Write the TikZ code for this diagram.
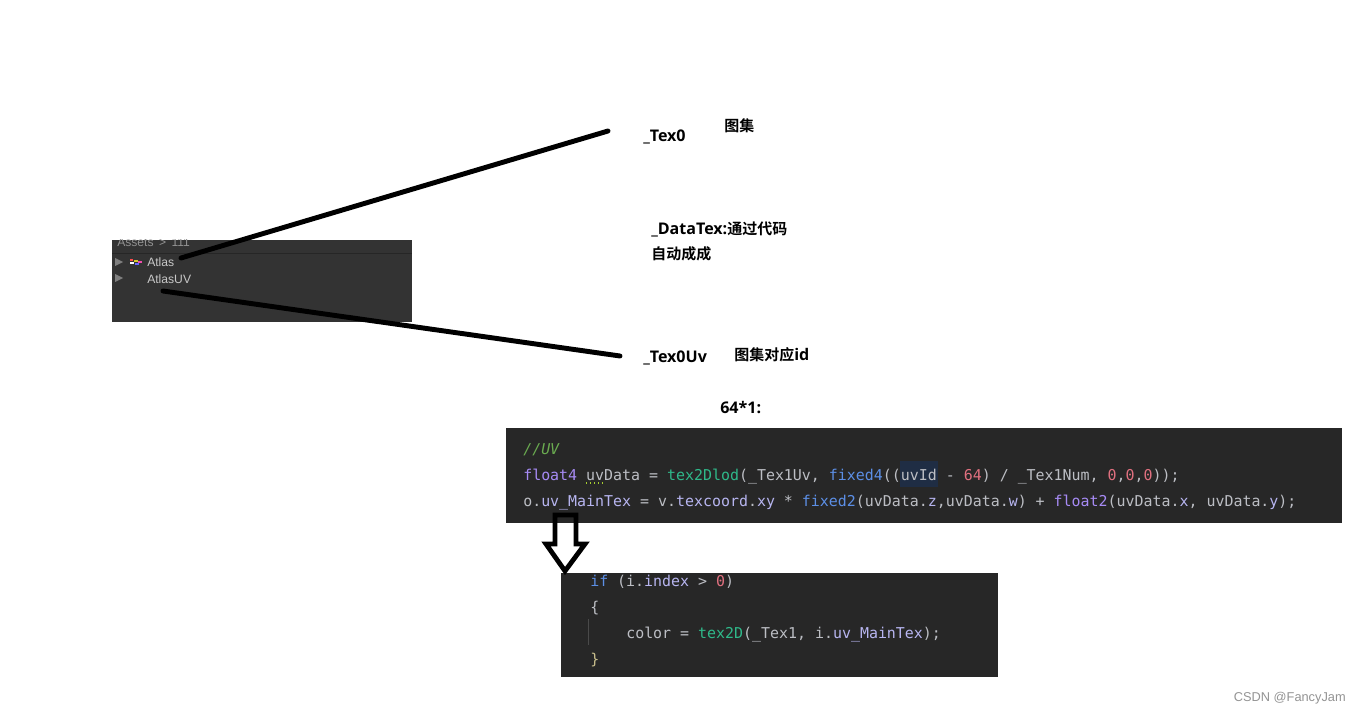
\documentclass[tikz,border=0pt]{standalone}
\usepackage{fontspec}
\usepackage{xcolor}
\setmainfont{Liberation Sans}
\setmonofont{DejaVu Sans Mono}
\newfontfamily\labelfont{Noto Sans CJK SC}[BoldFont={Noto Sans CJK SC Bold}]
\newfontfamily\latinfont{Open Sans}[Scale=1.07]

\definecolor{panelbg}{HTML}{333333}
\definecolor{panelline}{HTML}{262626}
\definecolor{paneltext}{HTML}{C8C8C8}
\definecolor{paneltri}{HTML}{7F7F7F}
\definecolor{codebg}{HTML}{272727}
\definecolor{codegray}{HTML}{BCBEC4}
\definecolor{codegreen}{HTML}{6AAB50}
\definecolor{codeblue}{HTML}{5C8FE6}
\definecolor{codepurple}{HTML}{A78BF5}
\definecolor{codefunc}{HTML}{2FB98A}
\definecolor{codepink}{HTML}{E0707F}
\definecolor{codefield}{HTML}{B7B5F0}
\definecolor{codemark}{HTML}{1F2D44}
\definecolor{codetan}{HTML}{C8BE8C}

\newcommand{\codekw}[1]{\textcolor{codeblue}{#1}}
\newcommand{\codepu}[1]{\textcolor{codepurple}{#1}}
\newcommand{\codefn}[1]{\textcolor{codefunc}{#1}}
\newcommand{\codenr}[1]{\textcolor{codepink}{#1}}
\newcommand{\codefd}[1]{\textcolor{codefield}{#1}}
\newcommand{\lat}[1]{{\latinfont\bfseries #1}}

\tikzset{
  codeline/.style={anchor=base west, inner sep=0pt, text=codegray, font=\ttfamily\fontsize{11.2pt}{13pt}\selectfont},
  assetline/.style={anchor=base west, inner sep=0pt, text=paneltext, font=\fontsize{9.1pt}{11pt}\selectfont},
  notelabel/.style={anchor=base west, inner sep=0pt, font=\labelfont\bfseries\fontsize{11.25pt}{13pt}\selectfont},
  pointer/.style={black, line width=3.7pt, line cap=round},
}

\begin{document}
\begin{tikzpicture}[x=0.75pt, y=-0.75pt]
\useasboundingbox (0,0) rectangle (1361,713);

\fill[panelbg] (112,240) rectangle (412,322);
\begin{scope}
\clip (112,240) rectangle (412,322);
\node[assetline, text=paneltri!85!white] (assets) at (117,247) {Assets \,>\, 111};
\end{scope}
\draw[panelline] (112,253) -- (412,253);
\fill[paneltri] (115,258) -- (123,262) -- (115,266) -- cycle;
\fill[paneltri] (115,274) -- (123,278) -- (115,282) -- cycle;
\fill[red!70!white] (130,259) rectangle (133,261);
\fill[yellow!80!black] (134,260) rectangle (138,262);
\fill[magenta!70!white] (138,261) rectangle (142,263);
\fill[white] (130,262) rectangle (134,264);
\fill[blue!60!white] (135,263) rectangle (139,265);
\node[assetline] (atlas) at (147,267) {Atlas};
\node[assetline] (atlasuv) at (147,283) {AtlasUV};

\fill[codebg] (506,428) rectangle (1342,523);
\fill[codemark] (900,461) rectangle (938,487);
\node[codeline, text=codegreen, font=\ttfamily\itshape\fontsize{11.2pt}{13pt}\selectfont] (comment) at (523,454) {//UV};
\node[codeline] (uvdata) at (523,480) {\codepu{float4} uvData = \codefn{tex2Dlod}(\_Tex1Uv, \codekw{fixed4}((uvId - \codenr{64}) / \_Tex1Num, \codenr{0},\codenr{0},\codenr{0}));};
\node[codeline] (maintex) at (523,506) {o.\codefd{uv\_MainTex} = v.\codefd{texcoord}.\codefd{xy} * \codekw{fixed2}(uvData.\codefd{z},uvData.\codefd{w}) + \codepu{float2}(uvData.\codefd{x}, uvData.\codefd{y});};
\draw[codegreen!60!yellow, line width=1pt, dotted] (586,483) -- (605,483);

\fill[codebg] (561,573) rectangle (998,677);
\draw[gray!40!codebg] (588,619) -- (588,645);
\node[codeline] (ifline) at (590,586) {\codekw{if} (i.\codefd{index} > \codenr{0})};
\node[codeline] (openbrace) at (590,612) {\{};
\node[codeline] (colorline) at (626,638) {color = \codefn{tex2D}(\_Tex1, i.\codefd{uv\_MainTex});};
\node[codeline, text=codetan] (closebrace) at (590,664) {\}};

\draw[black, line width=3.6pt, line join=miter, fill=none] (555,515) -- (576,515) -- (576,544) -- (585,544) -- (565,571) -- (546,544) -- (555,544) -- cycle;

\coordinate (atlasend) at (181,258);
\coordinate (atlasuvend) at (163,291);
\coordinate (tex0end) at (608,131);
\coordinate (tex0uvend) at (620,356);
\draw[pointer] (atlasend) -- (tex0end);
\draw[pointer] (atlasuvend) -- (tex0uvend);

\node[notelabel] (tex0) at (643,142) {\lat{\_Tex0}};
\node[notelabel] (tex0note) at (724,132) {图集};
\node[notelabel] (datatex) at (651,234) {\lat{\_DataTex:}通过代码};
\node[notelabel] (datatexnote) at (651,259) {自动成成};
\node[notelabel] (tex0uv) at (643,362) {\lat{\_Tex0Uv}};
\node[notelabel] (tex0uvnote) at (734,360) {图集对应\lat{id}};
\node[notelabel] (size) at (720,413) {\lat{64*1:}};

\node[anchor=base east, inner sep=0pt, text=gray!85!white, font=\fontsize{9.6pt}{11pt}\selectfont] (mark) at (1346,701) {CSDN @FancyJam};
\end{tikzpicture}
\end{document}
